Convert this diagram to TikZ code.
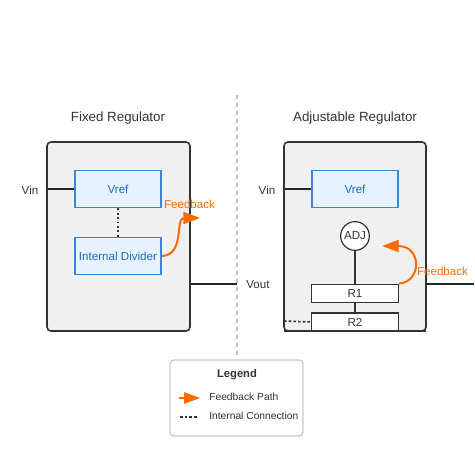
\documentclass[tikz,border=0pt]{standalone}
\usepackage{fontspec}
\setmainfont{Liberation Sans}
\usetikzlibrary{arrows.meta}
\definecolor{txt}{HTML}{333333}
\definecolor{boxfill}{HTML}{F0F0F0}
\definecolor{blueline}{HTML}{3C85D6}
\definecolor{bluefill}{HTML}{E6F2FF}
\definecolor{bluetxt}{HTML}{1F6BC4}
\definecolor{orng}{HTML}{FF6A00}
\definecolor{gridgray}{HTML}{BBBBBB}
\begin{document}
\begin{tikzpicture}[x=0.75pt,y=-0.75pt,
  regbox/.style={draw=txt,fill=boxfill,line width=1.2pt,rounded corners=3pt},
  bluebox/.style={draw=blueline,fill=bluefill,line width=1.2pt,minimum width=64.8pt,minimum height=28pt,inner sep=0pt,text=bluetxt,font=\fontsize{8.7pt}{10pt}\selectfont},
  resbox/.style={draw=txt,fill=white,line width=0.9pt,minimum width=64.8pt,inner sep=0pt,text=txt,font=\fontsize{8.7pt}{10pt}\selectfont},
  title/.style={text=txt,font=\fontsize{10pt}{12pt}\selectfont},
  lbl/.style={text=txt,font=\fontsize{8.7pt}{10pt}\selectfont},
  fblbl/.style={text=orng,font=\fontsize{8.7pt}{10pt}\selectfont},
  wire/.style={draw=black!85,line width=1.1pt},
  fbarrow/.style={draw=orng,line width=1.5pt,-{Triangle[length=12.5pt,width=9pt]}},
]
\useasboundingbox (0,0) rectangle (474,474);
% divider
\coordinate (dtop) at (237,95);
\coordinate (dbot) at (237,355);
\draw[gridgray,line width=0.8pt,dash pattern=on 3pt off 3pt] (dtop) -- (dbot);

% ---- Fixed regulator
\node[title] (t1) at (118,118) {Fixed Regulator};
\draw[regbox] (47,142) rectangle (190,331);
\coordinate (b1l) at (47,189);
\coordinate (b1r) at (190,284);
\node[bluebox] (vref1) at (118,189) {Vref};
\node[bluebox] (div) at (118,256) {Internal Divider};
\draw[txt,line width=1.3pt,dotted] (vref1.south) -- (div.north);
\node[lbl,anchor=center] (vin1) at (30,190) {Vin};
\draw[wire] (b1l) -- (vref1.west);
\coordinate (vout1end) at (237,284);
\draw[wire] (b1r) -- (vout1end);
\node[lbl] (vout1) at (258,285) {Vout};
\coordinate (fb1end) at (200,218);
\draw[fbarrow] (div.east) .. controls (185,255) and (175,218) .. (fb1end);
\node[fblbl] (fb1) at (189.5,204) {Feedback};

% ---- Adjustable regulator
\node[title] (t2) at (355,118) {Adjustable Regulator};
\draw[regbox] (284,142) rectangle (426,331);
\coordinate (b2l) at (284,189);
\coordinate (b2r) at (426,284);
\node[bluebox] (vref2) at (355,189) {Vref};
\node[lbl] (vin2) at (267,190) {Vin};
\draw[wire] (b2l) -- (vref2.west);
\node[circle,draw=txt,fill=white,line width=0.9pt,minimum size=21.5pt,inner sep=0pt,lbl] (adj) at (355,236) {ADJ};
\node[resbox,minimum height=14pt] (r1) at (355,293.5) {R1};
\node[resbox,minimum height=13.5pt] (r2) at (355,322) {R2};
\draw[txt,line width=0.9pt] (adj.south) -- (r1.north);
\draw[txt,line width=0.9pt] (r1.south) -- (r2.north);
\draw[txt,line width=1.2pt] (284,331) -- (426,331);
\coordinate (b2d) at (284,321);
\draw[txt,line width=1.2pt,dash pattern=on 2pt off 1.5pt] (b2d) -- (r2.west);
\coordinate (vout2end) at (474,284);
\draw[wire] (b2r) -- (vout2end);
\coordinate (fb2end) at (382,246);
\draw[fbarrow] (r1.north east) .. controls (422,282) and (422,246) .. (fb2end);
\node[fblbl] (fb2) at (442.5,271) {Feedback};

% ---- Legend
\draw[draw=gridgray!80,fill=white,line width=1pt,rounded corners=3pt] (170,360) rectangle (303,436);
\node[text=txt,font=\bfseries\fontsize{8.4pt}{10pt}\selectfont] (leg) at (237,375) {Legend};
\coordinate (la1) at (179,398);
\coordinate (la2) at (200,398);
\draw[draw=orng,line width=1.2pt,-{Triangle[length=12pt,width=8.5pt]}] (la1) -- (la2);
\node[text=txt,font=\fontsize{7.7pt}{9pt}\selectfont,anchor=west,inner sep=0pt] (l1) at (209,397) {Feedback Path};
\coordinate (ld1) at (180,417);
\coordinate (ld2) at (197,417);
\draw[txt,line width=0.9pt,dash pattern=on 2pt off 1.5pt] (ld1) -- (ld2);
\node[text=txt,font=\fontsize{7.7pt}{9pt}\selectfont,anchor=west,inner sep=0pt] (l2) at (209,416) {Internal Connection};
\end{tikzpicture}
\end{document}
